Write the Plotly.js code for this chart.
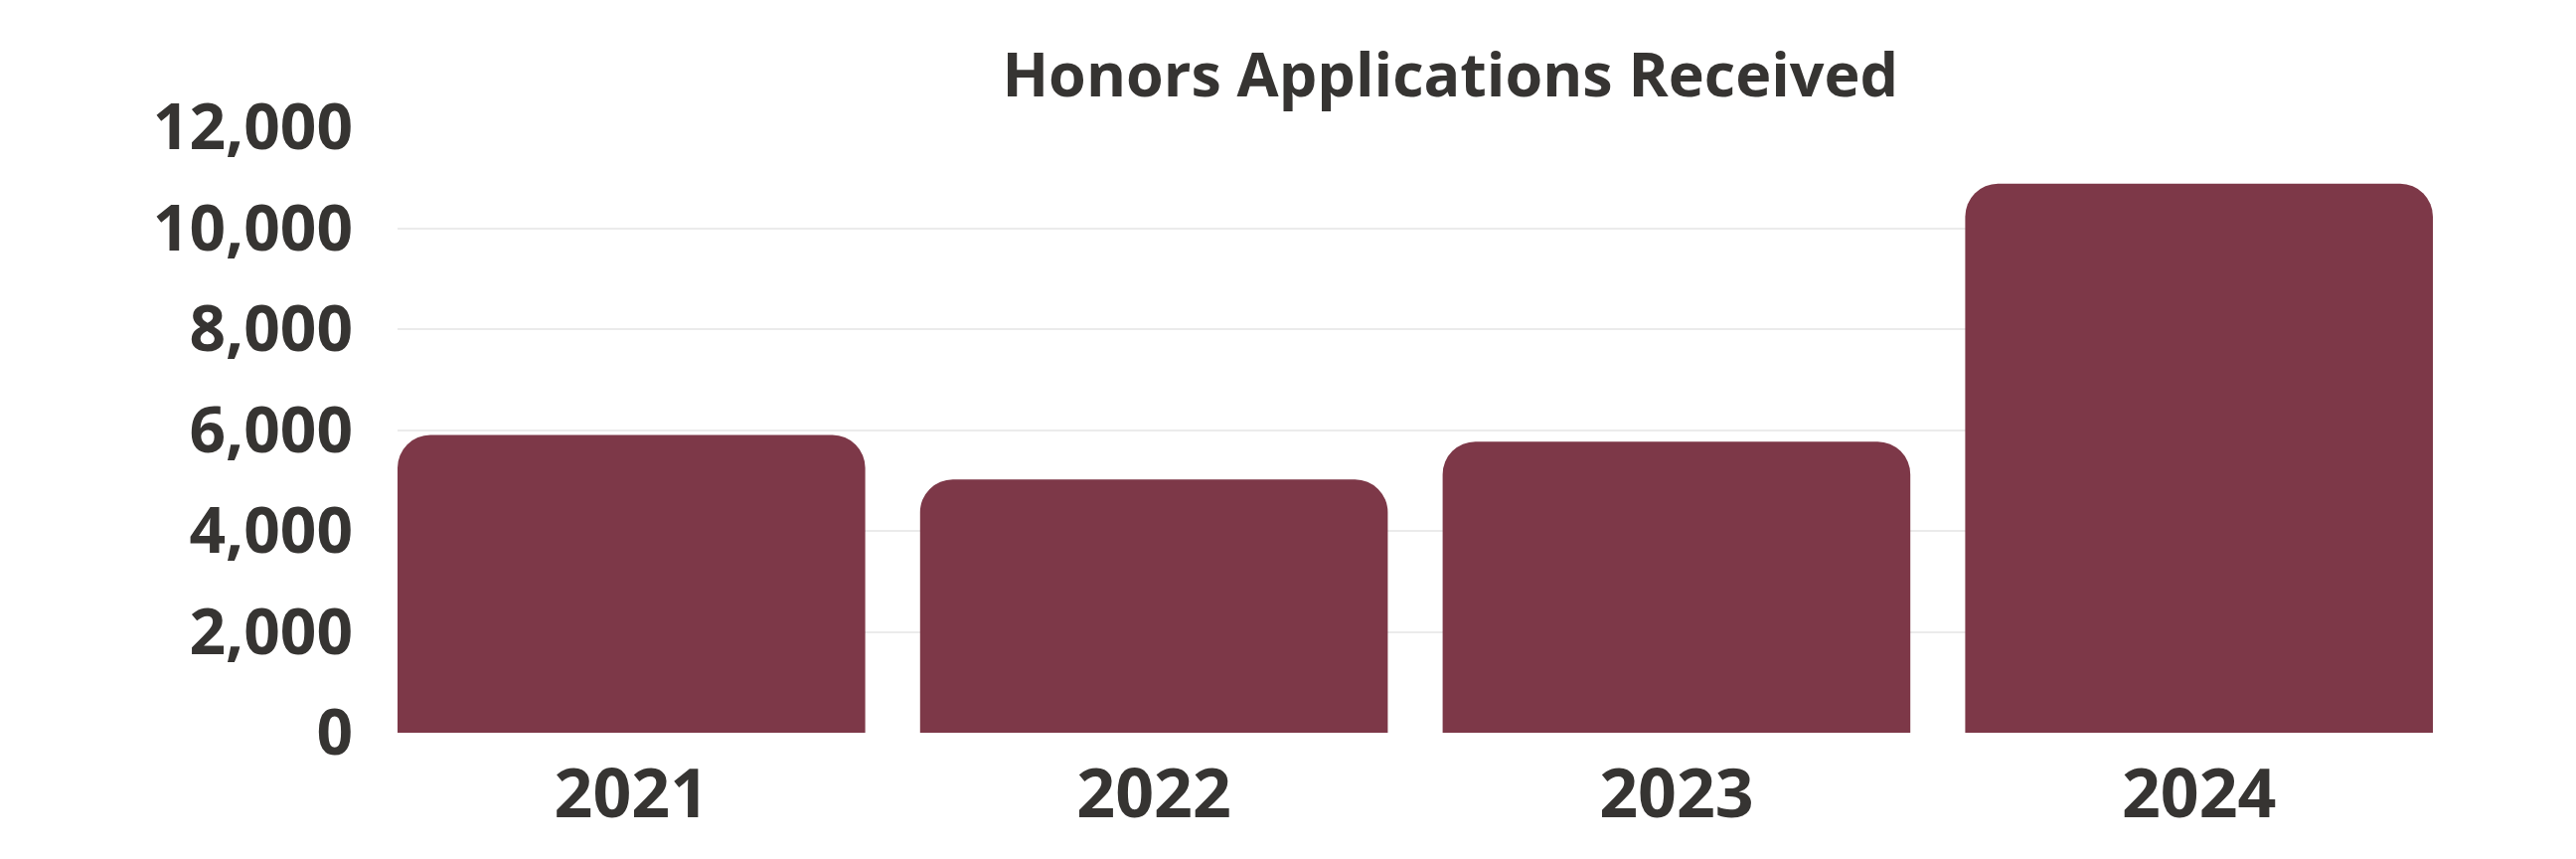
<!DOCTYPE html>
<html>
<head>
<meta charset="utf-8">
<script src="https://cdn.plot.ly/plotly-3.0.1.min.js"></script>
<style>html,body{margin:0;padding:0;background:#fff;}#chart{width:2592px;height:864px;}</style>
</head>
<body>
<div id="chart"></div>
<script>
const years = ["2021", "2022", "2023", "2024"];
const applications = [5900, 5020, 5770, 10880];
const yTicks = [0, 2000, 4000, 6000, 8000, 10000, 12000];
const chartTitle = "Honors Applications Received";

const textColor = "#363432";
const barColor = "#7D3848";

const trace = {
  type: "bar",
  x: years,
  y: applications,
  marker: { color: barColor, cornerradius: 33, line: { width: 0 } },
  hoverinfo: "x+y"
};

const layout = {
  width: 2592,
  height: 864,
  margin: { l: 400, r: 144, t: 128, b: 127, pad: 0 },
  paper_bgcolor: "#ffffff",
  plot_bgcolor: "#ffffff",
  bargap: 0.105,
  showlegend: false,
  font: { family: "Open Sans, sans-serif", color: textColor },
  title: {
    text: "<b>" + chartTitle + "</b>",
    font: { family: "Open Sans, sans-serif", size: 61, color: textColor },
    xref: "container", x: 0.563, xanchor: "center",
    yref: "container", y: 0.912, yanchor: "middle"
  },
  xaxis: {
    type: "category",
    range: [-0.4475, 3.4475],
    showgrid: false,
    zeroline: false,
    showline: false,
    ticks: "",
    ticklabelstandoff: 16,
    tickfont: { family: "Open Sans, sans-serif", size: 68, color: textColor, weight: "bold" }
  },
  yaxis: {
    range: [0, 12000],
    tickvals: yTicks,
    tickformat: ",",
    showgrid: true,
    gridcolor: "#ebebeb",
    gridwidth: 2,
    zeroline: false,
    showline: false,
    ticks: "",
    ticklabelstandoff: 44,
    tickfont: { family: "Open Sans, sans-serif", size: 64, color: textColor, weight: "bold" }
  }
};

Plotly.newPlot("chart", [trace], layout, { displayModeBar: false, staticPlot: true });
</script>
</body>
</html>
